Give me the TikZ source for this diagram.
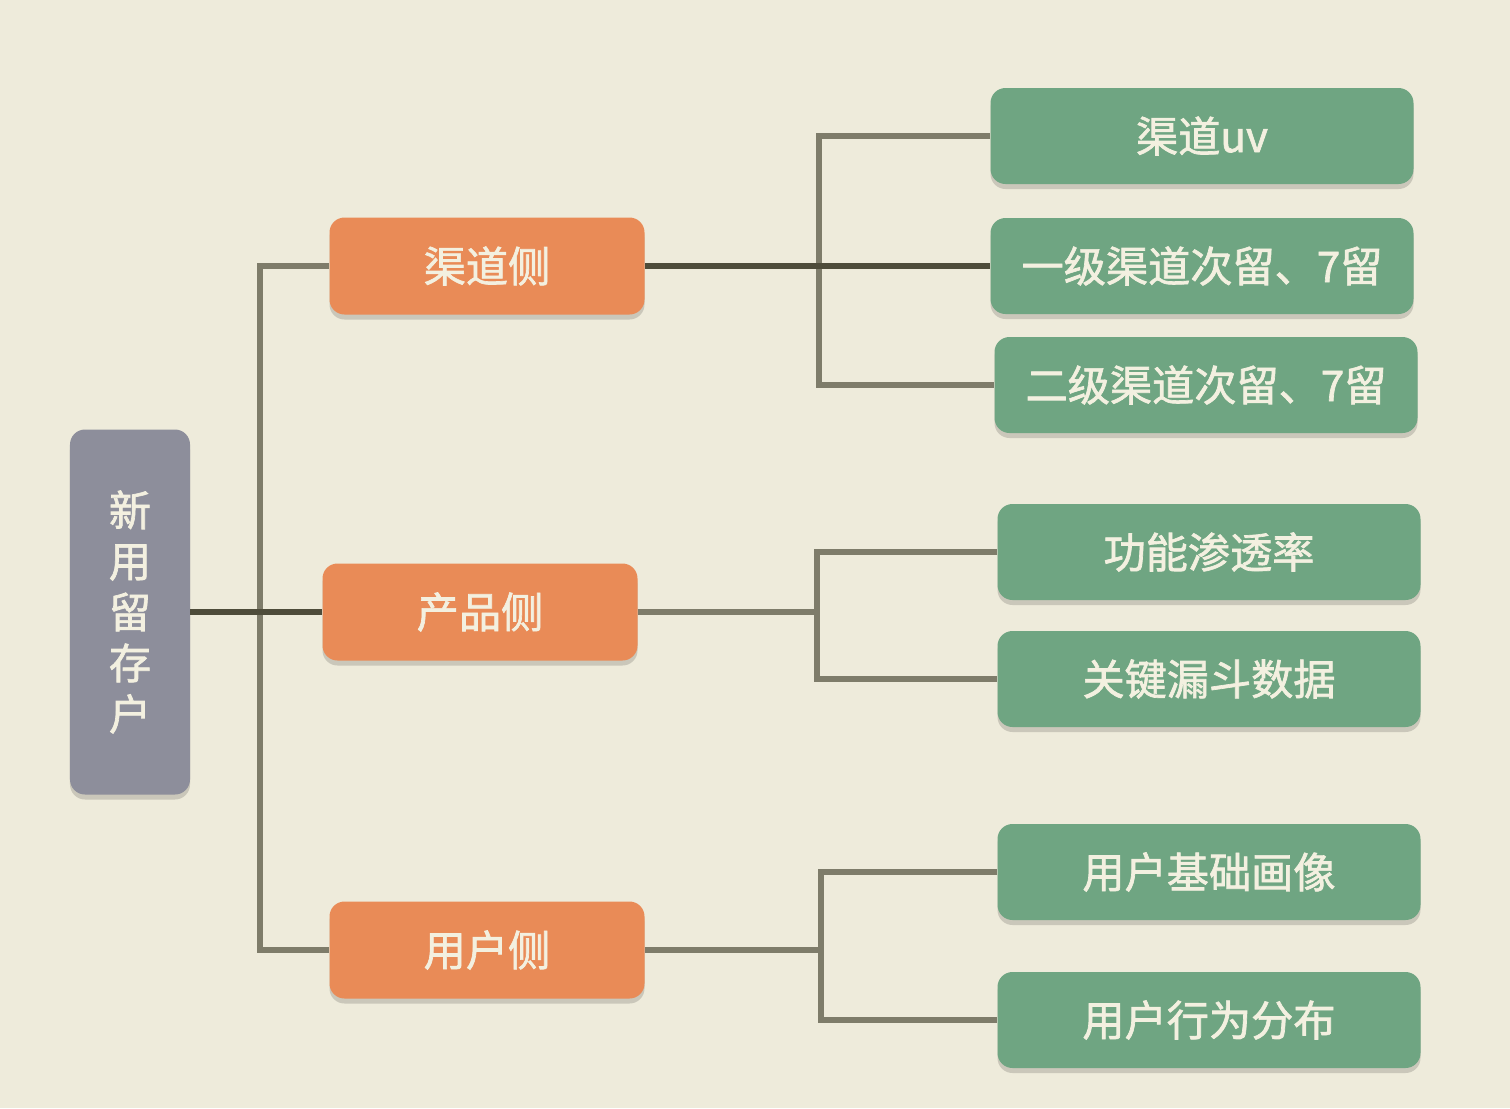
\documentclass[tikz,border=0pt]{standalone}
\usepackage{fontspec}
\usepackage{tikz}
\usetikzlibrary{shadows}
\newfontfamily\cjk[FakeBold=1.6]{Noto Sans CJK SC}
\definecolor{paper}{HTML}{EEEBDB}
\definecolor{cream}{HTML}{F3F0E0}
\definecolor{rootgray}{HTML}{8D8E9B}
\definecolor{sideorange}{HTML}{E98B57}
\definecolor{itemgreen}{HTML}{6FA582}
\definecolor{linkgray}{HTML}{7E7C6A}
\definecolor{trunkdark}{HTML}{4E4C3A}

\begin{document}
\begin{tikzpicture}[x=0.2mm,y=-0.2mm,
  box/.style={rounded corners=3mm, text=cream,
    font=\cjk\fontsize{24}{29}\selectfont,
    drop shadow={shadow xshift=0pt, shadow yshift=-1mm, opacity=0.15, fill=black}},
  rootbox/.style={box, fill=rootgray, minimum width=24mm, minimum height=73mm, align=center},
  side/.style={box, fill=sideorange, minimum width=63mm, minimum height=19.4mm},
  item/.style={box, fill=itemgreen, minimum width=84.6mm, minimum height=19.2mm},
  link/.style={draw=linkgray, line width=1.1mm},
  trunk/.style={draw=trunkdark, line width=1.2mm}]
  \fill[paper] (0,0) rectangle (1510,1108);
  \useasboundingbox (0,0) rectangle (1510,1108);
  % root
  \node[rootbox] at (130,612) (root) {新\\用\\留\\存\\户};
  % second level
  \node[side] at (487,266) (qd) {渠道侧};
  \node[side] at (480,612) (cp) {产品侧};
  \node[side] at (487,950) (yh) {用户侧};
  % leaves
  \node[item] at (1202,136) (uv) {渠道uv};
  \node[item] at (1202,266) (yj) {一级渠道次留、7留};
  \node[item] at (1206,385) (ej) {二级渠道次留、7留};
  \node[item] at (1209,552) (gn) {功能渗透率};
  \node[item] at (1209,679) (gj) {关键漏斗数据};
  \node[item] at (1209,872) (hx) {用户基础画像};
  \node[item] at (1209,1020) (fb) {用户行为分布};
  % buses
  \coordinate (busA) at (260,612);
  \coordinate (busB) at (819,266);
  \coordinate (busC) at (817,612);
  \coordinate (busD) at (821,950);
  \draw[link] (qd.west) -| (busA) |- (yh.west);
  \draw[trunk] (root.east) -- (busA) -- (cp.west);
  \draw[link] (uv.west) -| (busB) |- (ej.west);
  \draw[trunk] (qd.east) -- (yj.west);
  \draw[link] (cp.east) -- (busC);
  \draw[link] (gn.west) -| (busC) |- (gj.west);
  \draw[link] (yh.east) -- (busD);
  \draw[link] (hx.west) -| (busD) |- (fb.west);
\end{tikzpicture}
\end{document}
